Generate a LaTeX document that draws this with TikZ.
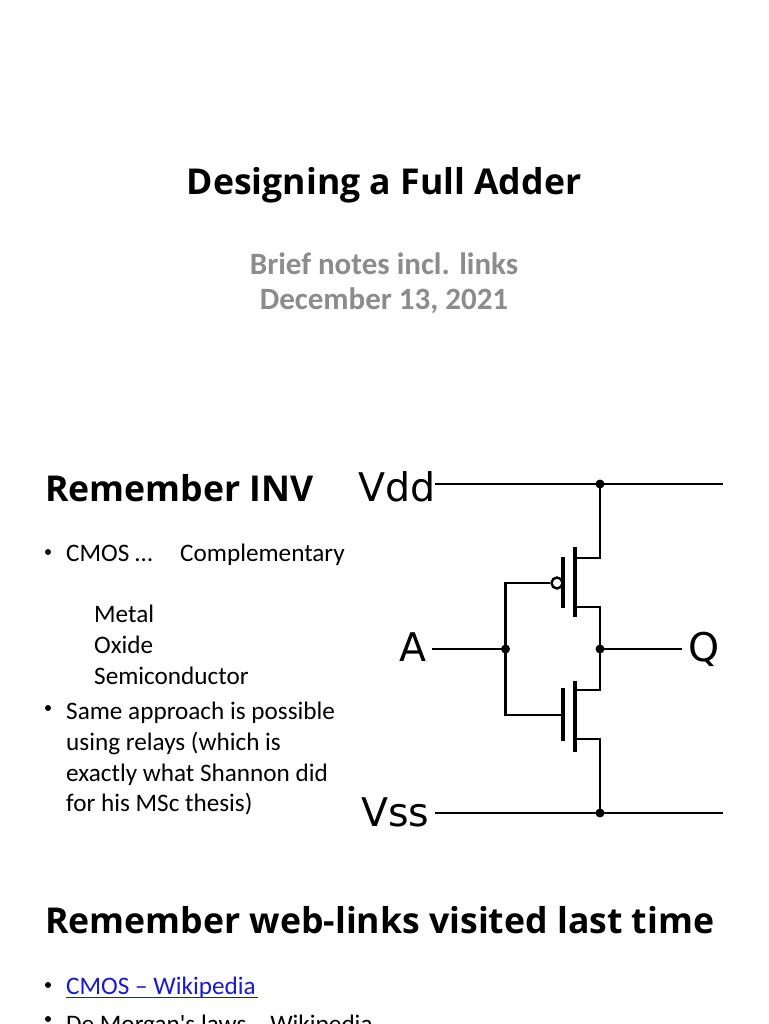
\documentclass[tikz,border=0pt]{standalone}
\usepackage{fontspec}
\setmainfont{Carlito}
\newfontfamily\straightfont{Carlito}[Ligatures=ResetAll]
\newfontfamily\headfont{Open Sans}
\newfontfamily\wirefont{DejaVu Sans}
\definecolor{subgray}{HTML}{8C8C8C}
\definecolor{linkblue}{HTML}{1A1AD0}
\tikzset{
 wire/.style={line width=2.9pt,black,line cap=butt,line join=miter},
 fet/.style={line width=3.5pt,black},
 dotj/.style={circle,fill=black,inner sep=0pt,minimum size=9pt},
 body/.style={inner sep=0pt,anchor=base west,font=\fontsize{25.2}{25.2}\selectfont},
 bul/.style={circle,fill=black,inner sep=0pt,minimum size=6pt},
 head/.style={inner sep=0pt,anchor=base west,font=\headfont\bfseries\fontsize{35.6}{35.6}\selectfont},
 sub/.style={inner sep=0pt,anchor=base,text=subgray,font=\bfseries\fontsize{31}{31}\selectfont},
 sig/.style={inner sep=0pt,anchor=base west,font=\wirefont\fontsize{39.5}{39.5}\selectfont},
}
\begin{document}
\begin{tikzpicture}[x=1pt,y=-1pt]
\useasboundingbox (0,0) rectangle (768,1024);
\clip (0,0) rectangle (768,1024);
\fill[white] (0,0) rectangle (768,1024);
% titles
\node[head,anchor=base] (title) at (384,195) {Designing a Full Adder};
\node[sub] (sub1) at (384,274) {Brief notes incl. links};
\node[sub] (sub2) at (384,309) {December 13, 2021};
\node[head] (h1) at (45,501) {Remember INV};
\node[head] (h2) at (45,933) {Remember web-links visited last time};
% body
\node[bul] (b1) at (48,552) {};
\node[body] (t1) at (66,561) {CMOS …};
\node[body] (t1b) at (180,561) {Complementary};
\node[body] (t2) at (94,622) {Metal};
\node[body] (t3) at (94,653) {Oxide};
\node[body] (t4) at (94,684) {Semiconductor};
\node[bul] (b2) at (48,708) {};
\node[body] (t5) at (66,719) {Same approach is possible};
\node[body] (t6) at (66,750) {using relays (which is};
\node[body] (t7) at (66,781) {exactly what Shannon did};
\node[body] (t8) at (66,811) {for his MSc thesis)};
\node[bul] (b3) at (48,985) {};
\node[body,text=linkblue] (l1) at (66,994) {CMOS – Wikipedia};
\draw[linkblue,line width=1.3pt] (l1.base west)++(0,3.5) -- ++(192,0);
\node[bul] (b4) at (48,1019) {};
\node[body] (l2) at (66,1032) {\straightfont De Morgan's laws – Wikipedia};
% signal labels
\node[sig] (vdd) at (358,501) {Vdd};
\node[sig] (vss) at (361,826) {Vss};
\node[sig] (a) at (399,661) {A};
\node[sig] (q) at (688,661) {Q};
% coordinates
\coordinate (vddL) at (435,484);
\coordinate (vddR) at (723,484);
\coordinate (vssL) at (435,813);
\coordinate (vssR) at (723,813);
\coordinate (aL) at (432,649);
\coordinate (qR) at (682,649);
\node[dotj] (jvdd) at (600,484) {};
\node[dotj] (jvss) at (600,813) {};
\node[dotj] (ja) at (505.5,649) {};
\node[dotj] (jq) at (600,649) {};
\coordinate (pch) at (575,558);
\coordinate (pcl) at (575,607);
\coordinate (nch) at (575,690);
\coordinate (ncl) at (575,739);
\coordinate (ng) at (563,715);
\node[circle,draw=black,line width=2.4pt,fill=white,inner sep=0pt,minimum size=11pt] (bub) at (557,583) {};
% rails and wires
\draw[wire] (vddL) -- (vddR);
\draw[wire] (vssL) -- (vssR);
\draw[wire] (aL) -- (ja.center);
\draw[wire] (jq.center) -- (qR);
\draw[wire] (jvdd.center) |- (pch);
\draw[wire] (jq.center) |- (pcl);
\draw[wire] (jq.center) |- (nch);
\draw[wire] (jvss.center) |- (ncl);
\draw[wire] (ja.center) |- (bub.west);
\draw[wire] (ja.center) |- (ng);
% transistors
\draw[fet] (575,547) -- (575,617);
\draw[fet] (563,557) -- (563,608);
\draw[fet] (575,681) -- (575,752);
\draw[fet] (563,688) -- (563,741);
\end{tikzpicture}
\end{document}
